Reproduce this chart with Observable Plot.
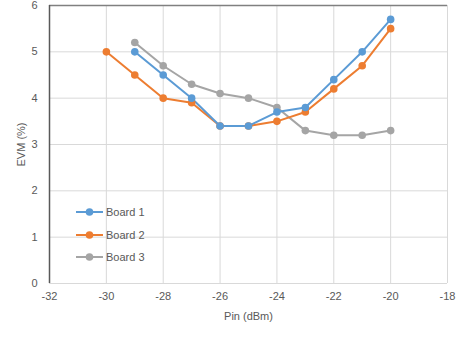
<!DOCTYPE html>
<html>
<head>
<meta charset="utf-8">
<script src="https://cdn.jsdelivr.net/npm/d3@7"></script>
<script src="https://cdn.jsdelivr.net/npm/@observablehq/plot@0.6"></script>
<style>
  html, body { margin: 0; padding: 0; background: #fff; }
  #wrap { position: relative; width: 474px; height: 351px; font-family: "Liberation Sans", Arial, sans-serif; }
  #legend { position: absolute; left: 76px; top: 201px; font-size: 11px; color: #595959; }
  #legend .row { display: flex; align-items: center; height: 22.5px; }
  #legend svg { margin-right: 3px; }
</style>
</head>
<body>
<div id="wrap"></div>
<script>
const seriesNames = ["Board 1", "Board 2", "Board 3"];
const colors = ["#5B9BD5", "#ED7D31", "#A5A5A5"];
const board1X = [-29, -28, -27, -26, -25, -24, -23, -22, -21, -20];
const board1Y = [5.0, 4.5, 4.0, 3.4, 3.4, 3.7, 3.8, 4.4, 5.0, 5.7];
const board2X = [-30, -29, -28, -27, -26, -25, -24, -23, -22, -21, -20];
const board2Y = [5.0, 4.5, 4.0, 3.9, 3.4, 3.4, 3.5, 3.7, 4.2, 4.7, 5.5];
const board3X = [-29, -28, -27, -26, -25, -24, -23, -22, -21, -20];
const board3Y = [5.2, 4.7, 4.3, 4.1, 4.0, 3.8, 3.3, 3.2, 3.2, 3.3];
const xTicks = [-32, -30, -28, -26, -24, -22, -20, -18];
const yTicks = [0, 1, 2, 3, 4, 5, 6];
const xLabel = "Pin (dBm)";
const yLabel = "EVM (%)";

const toRows = (xs, ys, name) => xs.map((x, i) => ({x, y: ys[i], name}));
const data = [
  ...toRows(board1X, board1Y, seriesNames[0]),
  ...toRows(board2X, board2Y, seriesNames[1]),
  ...toRows(board3X, board3Y, seriesNames[2])
];
const order = [seriesNames[2], seriesNames[1], seriesNames[0]];
const drawOrder = data.slice().sort((a, b) => order.indexOf(a.name) - order.indexOf(b.name));
const fmt = d => String(d);

const chart = Plot.plot({
  width: 474,
  height: 351,
  marginLeft: 49,
  marginRight: 27,
  marginTop: 5,
  marginBottom: 68,
  style: { fontFamily: "Liberation Sans, Arial, sans-serif", fontSize: "11px", color: "#595959", background: "#fff" },
  x: { domain: [-32, -18], ticks: xTicks, label: null, tickSize: 0, tickPadding: 9, tickFormat: fmt },
  y: { domain: [0, 6], ticks: yTicks, label: null, tickSize: 0, tickPadding: 12, tickFormat: fmt },
  color: { domain: seriesNames, range: colors },
  marks: [
    Plot.gridX(xTicks, { stroke: "#d9d9d9", strokeOpacity: 1 }),
    Plot.gridY(yTicks, { stroke: "#d9d9d9", strokeOpacity: 1 }),
    Plot.ruleY([6], { stroke: "#808080", strokeWidth: 1.5 }),
    Plot.ruleX([-32], { stroke: "#595959", strokeWidth: 1.5 }),
    Plot.axisX({ ticks: xTicks, tickSize: 0, tickPadding: 9, label: null, tickFormat: fmt }),
    Plot.axisY({ ticks: yTicks, tickSize: 0, tickPadding: 12, label: null, tickFormat: fmt }),
    Plot.line(drawOrder, { x: "x", y: "y", z: "name", stroke: "name", strokeWidth: 2 }),
    Plot.dot(drawOrder, { x: "x", y: "y", fill: "name", r: 3.8 }),
    Plot.text([yLabel], { frameAnchor: "left", textAnchor: "middle", dx: -28, rotate: -90, fill: "#595959", fontSize: 11 }),
    Plot.text([xLabel], { frameAnchor: "bottom", dy: 36, fill: "#595959", fontSize: 11 })
  ]
});
document.getElementById("wrap").appendChild(chart);

const legend = document.createElement("div");
legend.id = "legend";
seriesNames.forEach((name, i) => {
  const row = document.createElement("div");
  row.className = "row";
  row.innerHTML = `<svg width="27" height="10"><line x1="0" y1="5" x2="27" y2="5" stroke="${colors[i]}" stroke-width="2"/><circle cx="13.5" cy="5" r="3.8" fill="${colors[i]}"/></svg><span>${name}</span>`;
  legend.appendChild(row);
});
document.getElementById("wrap").appendChild(legend);
</script>
</body>
</html>
